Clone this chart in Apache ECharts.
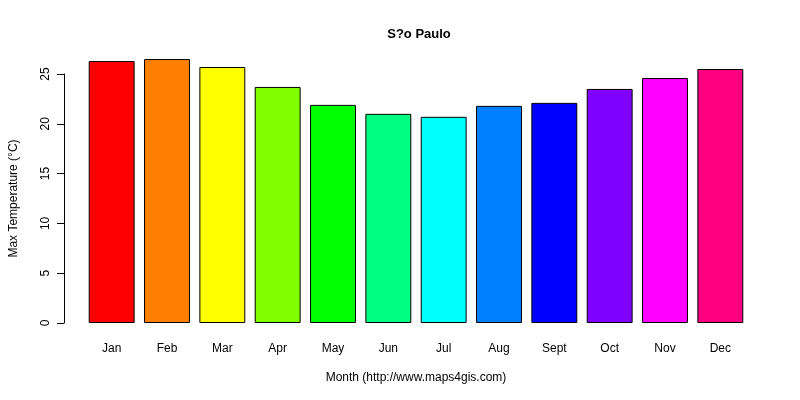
<!DOCTYPE html>
<html><head><meta charset="utf-8">
<script src="https://cdn.jsdelivr.net/npm/echarts@6/dist/echarts.min.js"></script>
<style>html,body{margin:0;background:#fff}#c{width:800px;height:400px}</style>
</head><body><div id="c"></div>
<script>
const months = ['Jan','Feb','Mar','Apr','May','Jun','Jul','Aug','Sept','Oct','Nov','Dec'];
const maxTemp = [26.3,26.5,25.7,23.7,21.9,21.0,20.7,21.8,22.1,23.5,24.6,25.5];
const colors = ['#FF0000','#FF8000','#FFFF00','#80FF00','#00FF00','#00FF80','#00FFFF','#0080FF','#0000FF','#8000FF','#FF00FF','#FF0080'];
const yTicks = [0,5,10,15,20,25];
const font = 'Liberation Sans, Arial, sans-serif';
const chart = echarts.init(document.getElementById('c'));
chart.setOption({
  animation:false,
  title:{text:'S?o Paulo',left:414,top:23,textAlign:'center',textStyle:{fontFamily:font,fontSize:13,fontWeight:'bold',color:'#000'}},
  grid:{left:80,right:52,top:74,bottom:77},
  xAxis:{type:'category',data:months,axisLine:{show:false},axisTick:{show:false},
    axisLabel:{margin:20,color:'#000',fontFamily:font,fontSize:12},
    name:'Month (http://www.maps4gis.com)',nameLocation:'middle',nameGap:49,
    nameTextStyle:{color:'#000',fontFamily:font,fontSize:12}},
  yAxis:{type:'value',min:yTicks[0],max:yTicks[yTicks.length-1],interval:5,offset:20,
    splitLine:{show:false},axisLine:{show:true,lineStyle:{color:'#000'}},
    axisTick:{show:true,length:7,lineStyle:{color:'#000'}},
    axisLabel:{rotate:90,margin:12,color:'#000',fontFamily:font,fontSize:12},
    name:'Max Temperature (°C)',nameLocation:'middle',nameGap:44,
    nameTextStyle:{color:'#000',fontFamily:font,fontSize:12}},
  series:[{type:'bar',clip:false,barCategoryGap:'17%',
    data:maxTemp.map((v,i)=>({value:v,itemStyle:{color:colors[i]}})),
    itemStyle:{borderColor:'#000',borderWidth:1}}]
});
</script></body></html>
